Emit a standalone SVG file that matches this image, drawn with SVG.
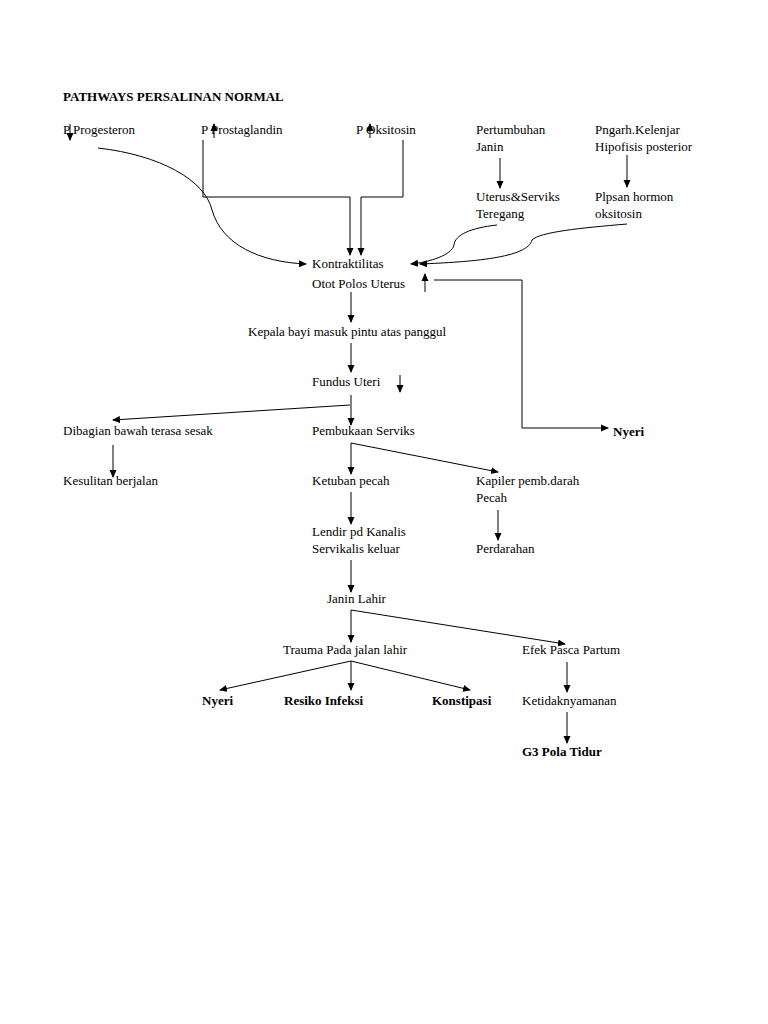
<svg xmlns="http://www.w3.org/2000/svg" width="768" height="1024" viewBox="0 0 768 1024">
<style>
text{font-family:"Liberation Serif",serif;font-size:13px;fill:#000}
.b{font-weight:bold}
.c path,.c line,.c polyline{stroke:#000;stroke-width:1;fill:none}
</style>
<defs><marker id="a" markerWidth="8" markerHeight="8" refX="7" refY="4" orient="auto" markerUnits="userSpaceOnUse"><path d="M0,0.5 L8,4 L0,7.5Z" fill="#000"/></marker></defs>
<rect width="768" height="1024" fill="#fff"/>
<text class="b" x="63" y="101">PATHWAYS PERSALINAN NORMAL</text>
<g id="n1"><text x="63" y="134">P  Progesteron</text></g>
<g id="n2"><text x="201" y="134">P  Prostaglandin</text></g>
<g id="n3"><text x="356" y="134">P   Oksitosin</text></g>
<g id="n4"><text x="476" y="134">Pertumbuhan</text><text x="476" y="151">Janin</text></g>
<g id="n5"><text x="595" y="134">Pngarh.Kelenjar</text><text x="595" y="151">Hipofisis posterior</text></g>
<g id="n6"><text x="476" y="201">Uterus&amp;Serviks</text><text x="476" y="218">Teregang</text></g>
<g id="n7"><text x="595" y="201">Plpsan hormon</text><text x="595" y="218">oksitosin</text></g>
<g id="n8"><text x="312" y="268">Kontraktilitas</text><text x="312" y="288">Otot Polos Uterus</text></g>
<g id="n9"><text x="248" y="336">Kepala bayi masuk pintu atas panggul</text></g>
<g id="n10"><text x="312" y="386">Fundus Uteri</text></g>
<g id="n11"><text x="63" y="435">Dibagian bawah terasa sesak</text></g>
<g id="n12"><text x="312" y="435">Pembukaan Serviks</text></g>
<g id="n13"><text class="b" x="613" y="436">Nyeri</text></g>
<g id="n14"><text x="63" y="485">Kesulitan berjalan</text></g>
<g id="n15"><text x="312" y="485">Ketuban pecah</text></g>
<g id="n16"><text x="476" y="485">Kapiler pemb.darah</text><text x="476" y="502">Pecah</text></g>
<g id="n17"><text x="312" y="536">Lendir pd Kanalis</text><text x="312" y="553">Servikalis keluar</text></g>
<g id="n18"><text x="476" y="553">Perdarahan</text></g>
<g id="n19"><text x="327" y="603">Janin Lahir</text></g>
<g id="n20"><text x="283" y="654">Trauma Pada jalan lahir</text></g>
<g id="n21"><text x="522" y="654">Efek Pasca Partum</text></g>
<g id="n22"><text class="b" x="202" y="705">Nyeri</text></g>
<g id="n23"><text class="b" x="284" y="705">Resiko Infeksi</text></g>
<g id="n24"><text class="b" x="432" y="705">Konstipasi</text></g>
<g id="n25"><text x="522" y="705">Ketidaknyamanan</text></g>
<g id="n26"><text class="b" x="522" y="756">G3 Pola Tidur</text></g>
<g class="c">
<line x1="70" y1="124" x2="70" y2="140" marker-end="url(#a)"/>
<line x1="214" y1="138" x2="214" y2="124" marker-end="url(#a)"/>
<line x1="370" y1="138" x2="370" y2="124" marker-end="url(#a)"/>
<line x1="425" y1="292" x2="425" y2="274" marker-end="url(#a)"/>
<line x1="400" y1="375" x2="400" y2="392" marker-end="url(#a)"/>
<path d="M98,148 C160,155 205,180 212,210 C222,245 260,262 306,264" marker-end="url(#a)"/>
<polyline points="203,140 203,197 350,197 350,255" marker-end="url(#a)"/>
<polyline points="403,140 403,197 361,197 361,255" marker-end="url(#a)"/>
<line x1="500" y1="158" x2="500" y2="188" marker-end="url(#a)"/>
<line x1="627" y1="155" x2="627" y2="187" marker-end="url(#a)"/>
<path d="M497,225 C470,228 455,235 454,245 C452,255 430,262 411,264" marker-end="url(#a)"/>
<path d="M627,224 C580,228 540,232 532,240 C528,258 470,262 420,264" marker-end="url(#a)"/>
<polyline points="434,280 522,280 522,428 608,428" marker-end="url(#a)"/>
<line x1="351" y1="292" x2="351" y2="322" marker-end="url(#a)"/>
<line x1="351" y1="343" x2="351" y2="372" marker-end="url(#a)"/>
<line x1="351" y1="395" x2="351" y2="425" marker-end="url(#a)"/>
<line x1="350" y1="405" x2="113" y2="420" marker-end="url(#a)"/>
<line x1="113" y1="445" x2="113" y2="477" marker-end="url(#a)"/>
<line x1="351" y1="443" x2="351" y2="474" marker-end="url(#a)"/>
<line x1="351" y1="443" x2="498" y2="472" marker-end="url(#a)"/>
<line x1="498" y1="510" x2="498" y2="540" marker-end="url(#a)"/>
<line x1="351" y1="492" x2="351" y2="524" marker-end="url(#a)"/>
<line x1="351" y1="560" x2="351" y2="592" marker-end="url(#a)"/>
<line x1="351" y1="610" x2="351" y2="642" marker-end="url(#a)"/>
<line x1="351" y1="610" x2="565" y2="644" marker-end="url(#a)"/>
<line x1="351" y1="661" x2="220" y2="690" marker-end="url(#a)"/>
<line x1="351" y1="661" x2="351" y2="690" marker-end="url(#a)"/>
<line x1="351" y1="661" x2="470" y2="690" marker-end="url(#a)"/>
<line x1="567" y1="662" x2="567" y2="692" marker-end="url(#a)"/>
<line x1="567" y1="712" x2="567" y2="743" marker-end="url(#a)"/>
</g>
</svg>
